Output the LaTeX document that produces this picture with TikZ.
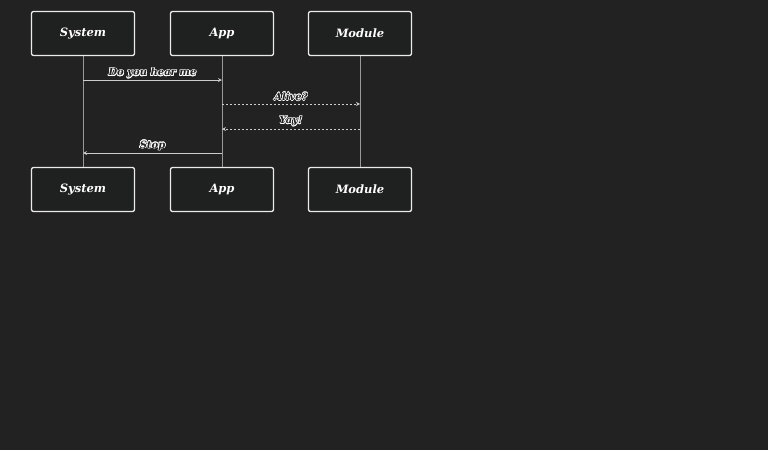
\documentclass[tikz,border=0pt]{standalone}
\usepackage{fontspec}
\setmainfont{DejaVu Serif}
\usepackage[copies]{contour}
\usepackage{tikz}
\usetikzlibrary{arrows}
\definecolor{bgdark}{HTML}{222222}
\definecolor{boxfill}{HTML}{1F2020}
\definecolor{lineclr}{HTML}{CCCCCC}
\contourlength{0.6pt}
\newcommand{\msgtext}[1]{\contour{white}{\textcolor{bgdark}{#1}}}

\begin{document}
\begin{tikzpicture}[>=stealth, x=1pt, y=-1pt,
    actor/.style={draw=white!92!black, line width=1.3pt, fill=boxfill, rounded corners=2pt,
        minimum width=103pt, minimum height=44pt, text=white,
        font=\fontsize{11.5}{13}\selectfont\bfseries\itshape},
    lifeline/.style={draw=lineclr!70!bgdark, line width=0.6pt},
    msgline/.style={draw=lineclr, line width=0.8pt, ->},
    msglabel/.style={font=\fontsize{10}{11}\selectfont\bfseries\itshape, inner sep=0pt}]
    % Canvas
    \fill[bgdark] (0,0) rectangle (768,450);
    \useasboundingbox (0,0) rectangle (768,450);

    % Lifelines
    \draw[lifeline] (83,56) -- (83,167);
    \draw[lifeline] (222,56) -- (222,167);
    \draw[lifeline] (360,56) -- (360,167);

    % Participants (top)
    \node (sys) at (83,33.5) [actor] {System};
    \node (app) at (222,33.5) [actor] {App};
    \node (mod) at (360,33.5) [actor] {Module};

    % Participants (bottom)
    \node (sysb) at (83,189.5) [actor] {System};
    \node (appb) at (222,189.5) [actor] {App};
    \node (modb) at (360,189.5) [actor] {Module};

    % Messages
    \coordinate (m1a) at (83,80);  \coordinate (m1b) at (222,80);
    \coordinate (m2a) at (222,104); \coordinate (m2b) at (360,104);
    \coordinate (m3a) at (360,129); \coordinate (m3b) at (222,129);
    \coordinate (m4a) at (222,153); \coordinate (m4b) at (83,153);

    \draw[msgline] (m1a) -- (m1b);
    \node[msglabel] at (152.5,73.5) {\msgtext{Do you hear me}};

    \draw[msgline, dash pattern=on 2pt off 2pt] (m2a) -- (m2b);
    \node[msglabel] at (291,97) {\msgtext{Alive?}};

    \draw[msgline, dash pattern=on 2pt off 2pt] (m3a) -- (m3b);
    \node[msglabel] at (291,121.5) {\msgtext{Yay!}};

    \draw[msgline] (m4a) -- (m4b);
    \node[msglabel] at (152.5,146) {\msgtext{Stop}};
\end{tikzpicture}
\end{document}
